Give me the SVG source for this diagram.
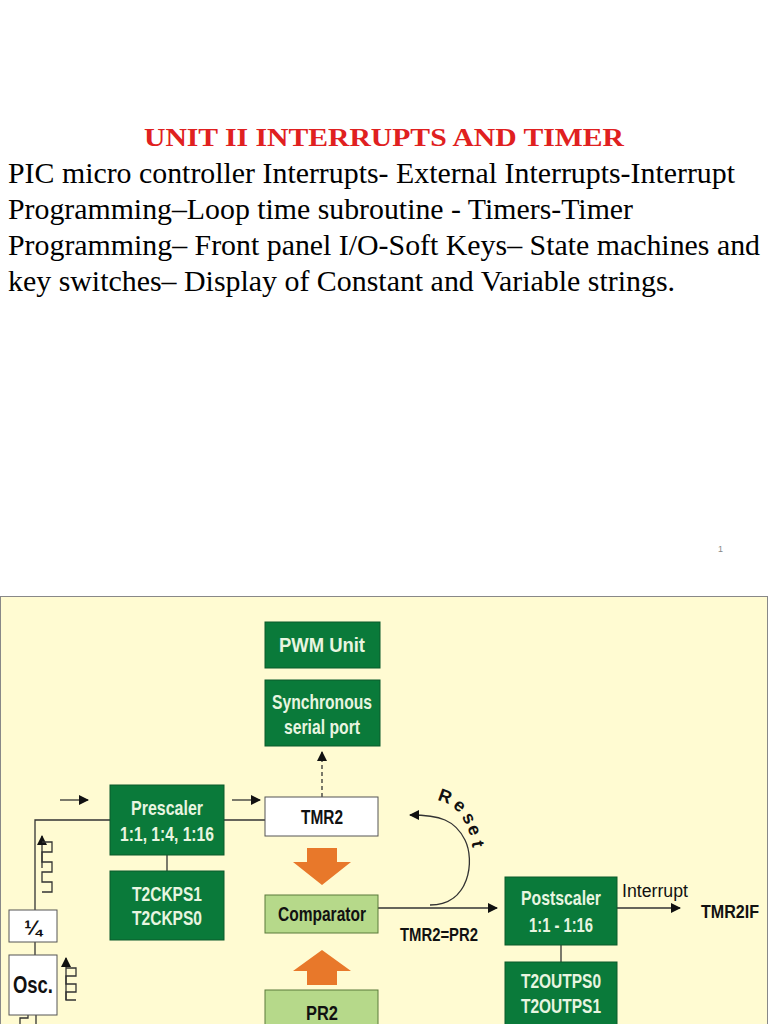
<svg xmlns="http://www.w3.org/2000/svg" width="768" height="1024" viewBox="0 0 768 1024">
<defs>
<style>
.t{font-family:"Liberation Serif",serif;font-size:29px;fill:#000}
.g{fill:#0a7a3a;stroke:#0a5a2a;stroke-width:1}
.w{fill:#fff;stroke:#555;stroke-width:1}
.lg{fill:#b6d98a;stroke:#5a7a3a;stroke-width:1}
.lbw{font-family:"Liberation Sans",Arial,sans-serif;font-weight:bold;font-size:21px;fill:#e8f5e0;text-anchor:middle}
.lbk{font-family:"Liberation Sans",Arial,sans-serif;font-weight:bold;font-size:21px;fill:#111;text-anchor:middle}
.ln{stroke:#333;stroke-width:1.3;fill:none}
.or{fill:#e8782a}
</style>
<marker id="ah" viewBox="0 0 10 10" refX="9" refY="5" markerWidth="10" markerHeight="10" orient="auto" markerUnits="userSpaceOnUse"><path d="M0,0L10,5L0,10z" fill="#111"/></marker>
</defs>
<rect width="768" height="1024" fill="#fff"/>
<text x="384" y="146" text-anchor="middle" textLength="480" lengthAdjust="spacingAndGlyphs" style="font-family:'Liberation Serif',serif;font-weight:bold;font-size:26px;fill:#e02020">UNIT II INTERRUPTS AND TIMER</text>
<text class="t" x="8" y="183" textLength="727" lengthAdjust="spacingAndGlyphs">PIC micro controller Interrupts- External Interrupts-Interrupt</text>
<text class="t" x="8" y="219" textLength="625" lengthAdjust="spacingAndGlyphs">Programming–Loop time subroutine - Timers-Timer</text>
<text class="t" x="8" y="255" textLength="752" lengthAdjust="spacingAndGlyphs">Programming– Front panel I/O-Soft Keys– State machines and</text>
<text class="t" x="8" y="291" textLength="667" lengthAdjust="spacingAndGlyphs">key switches– Display of Constant and Variable strings.</text>
<text x="718" y="552" style="font-family:'Liberation Sans',sans-serif;font-size:9px;fill:#888">1</text>
<rect x="0.5" y="596.5" width="767" height="430" fill="#fffbd2" stroke="#888"/>
<g id="connectors">
<path class="ln" d="M35,910V820H110"/>
<path class="ln" d="M224,820H265"/>
<path class="ln" d="M60,800H88" marker-end="url(#ah)"/>
<path class="ln" d="M232,800H260" marker-end="url(#ah)"/>
<path class="ln" d="M42,868V836" marker-end="url(#ah)"/>
<path class="ln" d="M42,842H52V852H42V862H52V872H42V882H52V892H42" stroke-width="1"/>
<path class="ln" d="M66,1000V958" marker-end="url(#ah)"/>
<path class="ln" d="M66,968H76V976H66V984H76V992H66V1000H76" stroke-width="1"/>
<path class="ln" d="M20,1024V1018H28V1010H36V1024" stroke-width="1"/>
<path class="ln" d="M35,942V955"/>
<path class="ln" d="M167,855V871"/>
<path class="ln" d="M561,945V962"/>
<path class="ln" d="M322,797V752" stroke-dasharray="4,3" marker-end="url(#ah)"/>
<path class="ln" d="M378,908H497" marker-end="url(#ah)"/>
<path class="ln" d="M430,905C470,905 475,860 465,840C455,820 440,815 410,815" stroke-width="1" marker-end="url(#ah)"/>
<path class="ln" d="M617,908H680" marker-end="url(#ah)"/>
<path class="or" d="M307,848H337V862H351L322,885L293,862H307z"/>
<path class="or" d="M307,985H337V971H351L322,950L293,971H307z"/>
</g>
<g id="pwm"><rect class="g" x="265" y="622" width="115" height="46"/><text class="lbw" x="322" y="652" textLength="86" lengthAdjust="spacingAndGlyphs">PWM Unit</text></g>
<g id="ssp"><rect class="g" x="265" y="680" width="115" height="66"/><text class="lbw" x="322" y="709" textLength="100" lengthAdjust="spacingAndGlyphs">Synchronous</text><text class="lbw" x="322" y="734" textLength="76" lengthAdjust="spacingAndGlyphs">serial port</text></g>
<g id="tmr2"><rect class="w" x="265" y="797" width="113" height="39"/><text class="lbk" x="322" y="824" textLength="42" lengthAdjust="spacingAndGlyphs">TMR2</text></g>
<g id="prescaler"><rect class="g" x="110" y="785" width="114" height="70"/><text class="lbw" x="167" y="815" textLength="72" lengthAdjust="spacingAndGlyphs">Prescaler</text><text class="lbw" x="167" y="841" textLength="94" lengthAdjust="spacingAndGlyphs">1:1, 1:4, 1:16</text></g>
<g id="t2ckps"><rect class="g" x="110" y="871" width="114" height="69"/><text class="lbw" x="167" y="901" textLength="70" lengthAdjust="spacingAndGlyphs">T2CKPS1</text><text class="lbw" x="167" y="925" textLength="70" lengthAdjust="spacingAndGlyphs">T2CKPS0</text></g>
<g id="comparator"><rect class="lg" x="265" y="895" width="113" height="38"/><text class="lbk" x="322" y="921" textLength="88" lengthAdjust="spacingAndGlyphs">Comparator</text></g>
<g id="pr2"><rect class="lg" x="265" y="990" width="113" height="40"/><text class="lbk" x="322" y="1020" textLength="32" lengthAdjust="spacingAndGlyphs">PR2</text></g>
<g id="quarter"><rect class="w" x="9" y="910" width="48" height="32"/><text class="lbk" x="33" y="935">¼</text></g>
<g id="osc"><rect class="w" x="9" y="955" width="48" height="60"/><text class="lbk" x="33" y="993" textLength="40" lengthAdjust="spacingAndGlyphs" style="font-size:23px">Osc.</text></g>
<g id="postscaler"><rect class="g" x="505" y="877" width="112" height="68"/><text class="lbw" x="561" y="905" textLength="80" lengthAdjust="spacingAndGlyphs">Postscaler</text><text class="lbw" x="561" y="932" textLength="64" lengthAdjust="spacingAndGlyphs">1:1 - 1:16</text></g>
<g id="t2outps"><rect class="g" x="505" y="962" width="112" height="66"/><text class="lbw" x="561" y="988" textLength="80" lengthAdjust="spacingAndGlyphs">T2OUTPS0</text><text class="lbw" x="561" y="1013" textLength="80" lengthAdjust="spacingAndGlyphs">T2OUTPS1</text></g>
<text class="lbk" x="439" y="941" textLength="78" lengthAdjust="spacingAndGlyphs" style="font-size:18px">TMR2=PR2</text>
<text class="lbk" x="655" y="897" textLength="66" lengthAdjust="spacingAndGlyphs" style="font-size:18px;font-weight:normal">Interrupt</text>
<text class="lbk" x="730" y="918" textLength="58" lengthAdjust="spacingAndGlyphs" style="font-size:18px">TMR2IF</text>
<g class="lbk" style="font-size:18px">
<text transform="translate(443,802) rotate(20)">R</text>
<text transform="translate(456,810) rotate(40)">e</text>
<text transform="translate(464,821) rotate(60)">s</text>
<text transform="translate(469,832) rotate(70)">e</text>
<text transform="translate(472,845) rotate(80)">t</text>
</g>
</svg>
